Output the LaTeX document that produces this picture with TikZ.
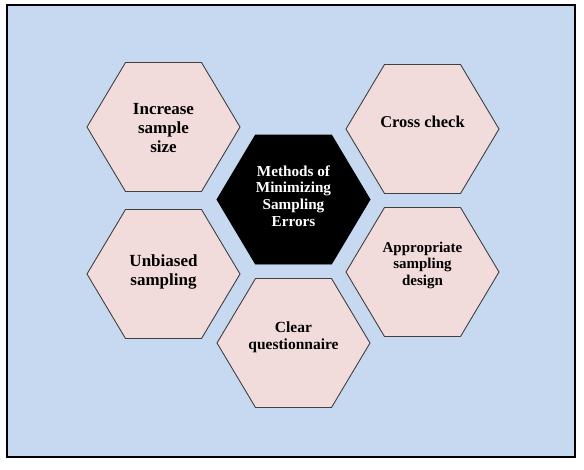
\documentclass[tikz,border=0pt]{standalone}
\usepackage{fontspec}
\setmainfont{Liberation Serif}
\definecolor{bgblue}{RGB}{198,217,241}
\definecolor{hexpink}{RGB}{242,220,219}
\definecolor{hexline}{RGB}{64,64,64}
\tikzset{
  hexbox/.style={draw=hexline, line width=0.9pt, fill=hexpink},
  hexcore/.style={draw=black, line width=0.9pt, fill=black},
  hextext/.style={align=center, inner sep=0pt, font=\bfseries},
}
\newcommand\drawhex[3]{%
  \path[#3] ({#1-76.5},#2) -- ({#1-38},{#2-64.5}) -- ({#1+38},{#2-64.5})
    -- ({#1+76.5},#2) -- ({#1+38},{#2+64.5}) -- ({#1-38},{#2+64.5}) -- cycle;}
\begin{document}
\begin{tikzpicture}[x=1pt,y=-1pt]
\useasboundingbox (0,0) rectangle (584,469);
\draw[fill=bgblue, draw=black, line width=1.2pt] (7,5) rectangle (575,457);
\drawhex{163.5}{127}{hexbox}
\drawhex{422.5}{129}{hexbox}
\drawhex{293.5}{199.5}{hexcore}
\drawhex{163.5}{274}{hexbox}
\drawhex{422.5}{272}{hexbox}
\drawhex{293.5}{343}{hexbox}
\node[hextext, font=\fontsize{17}{19}\selectfont\bfseries] (inc) at (163.5,128) {Increase\\sample\\size};
\node[hextext, font=\fontsize{16.5}{18}\selectfont\bfseries] (cross) at (422.5,122) {Cross check};
\node[hextext, text=white, font=\fontsize{15.2}{16.7}\selectfont\bfseries] (core) at (293.5,196) {Methods of\\Minimizing\\Sampling\\Errors};
\node[hextext, font=\fontsize{17}{19}\selectfont\bfseries] (unb) at (163.5,272) {Unbiased\\sampling};
\node[hextext, font=\fontsize{15}{16.5}\selectfont\bfseries] (app) at (422.5,265) {Appropriate\\sampling\\design};
\node[hextext, font=\fontsize{15.5}{17}\selectfont\bfseries] (clear) at (293.5,337.5) {Clear\\questionnaire};
\end{tikzpicture}
\end{document}
